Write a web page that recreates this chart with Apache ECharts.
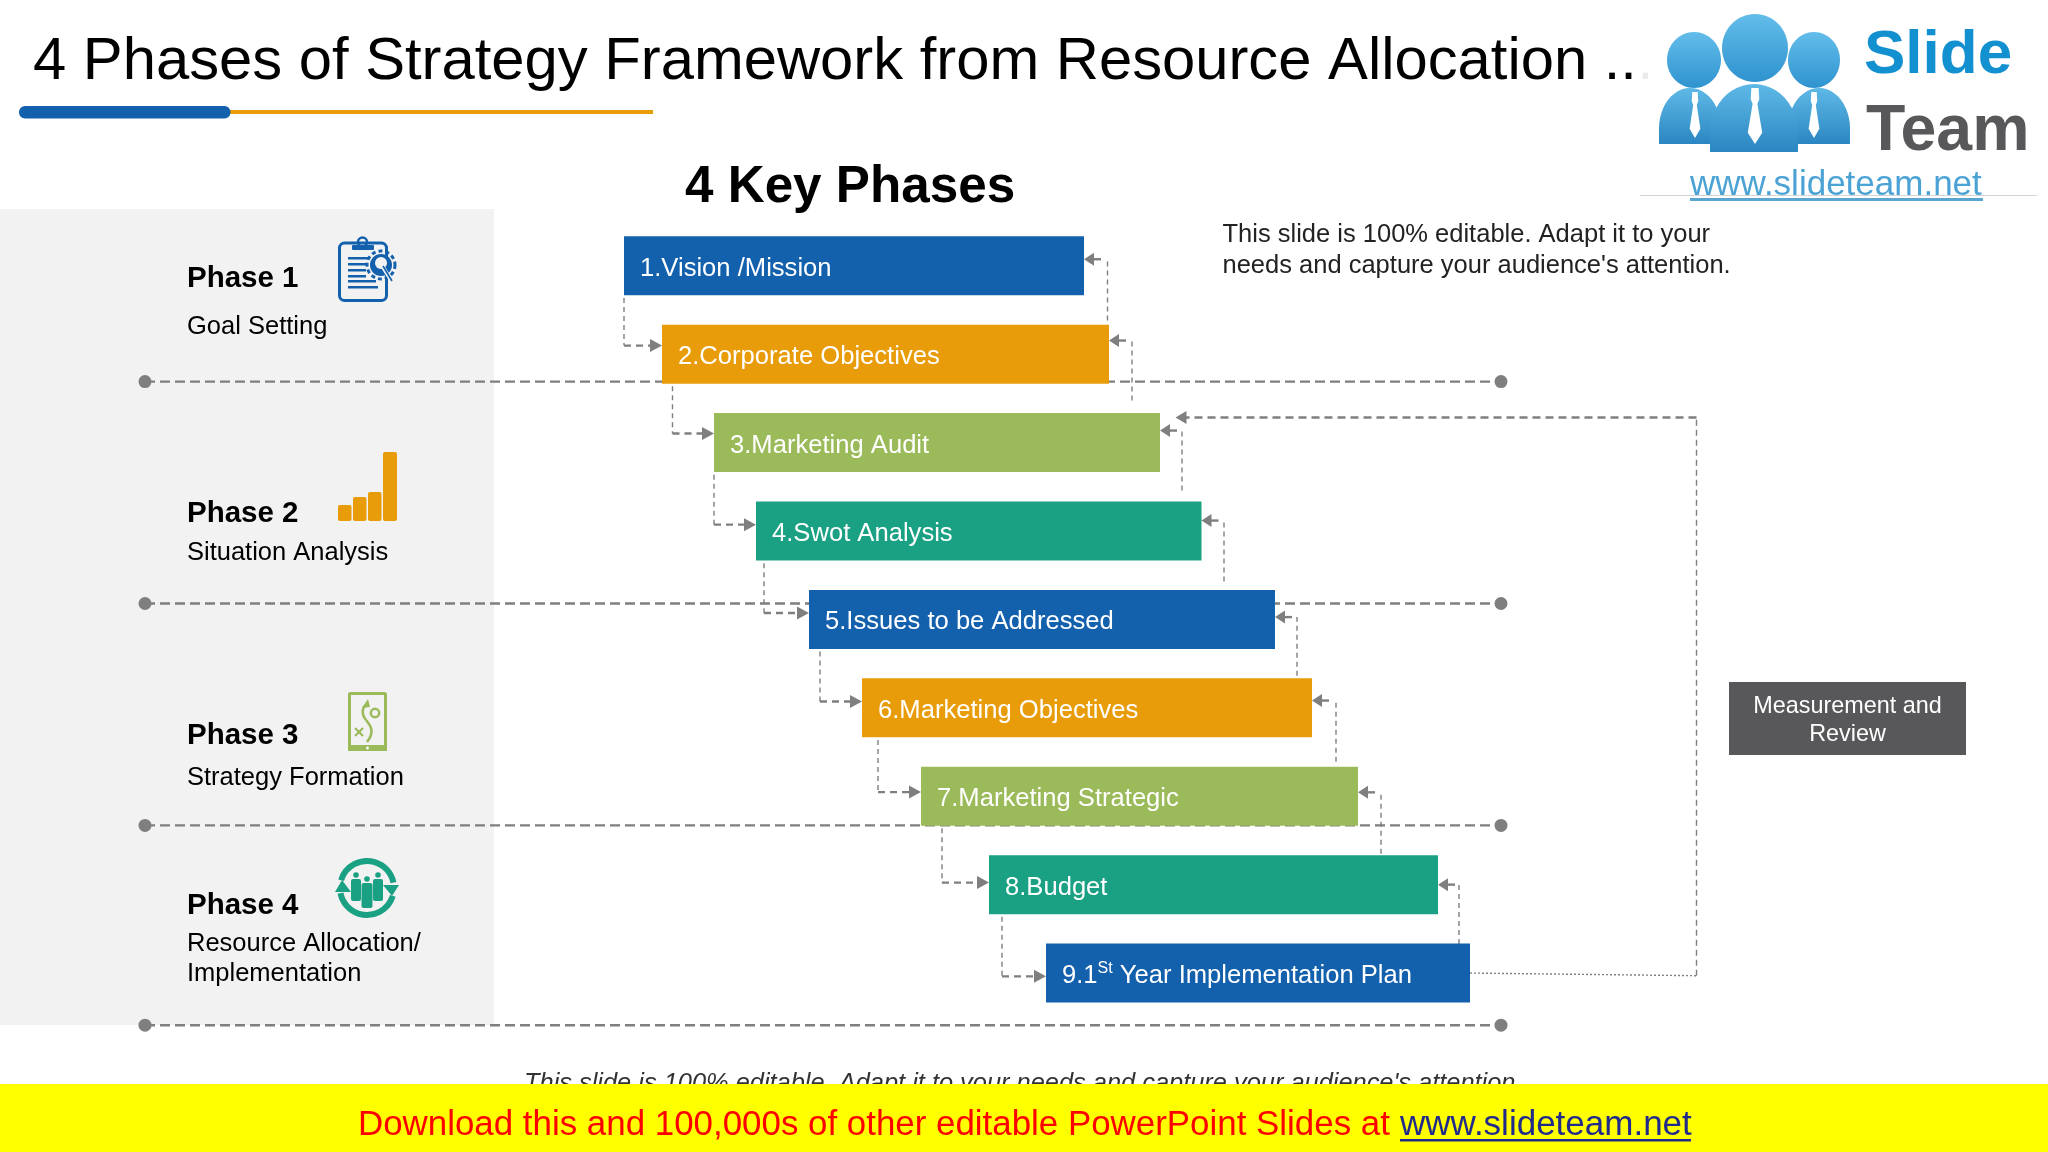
<![CDATA[<!DOCTYPE html>
<html><head><meta charset="utf-8">
<style>html,body{margin:0;padding:0;background:#fff}#c{width:2048px;height:1152px}</style>
<script src="https://cdn.jsdelivr.net/npm/echarts@6/dist/echarts.min.js"></script>
</head><body><div id="c"></div>
<script>
// ---- data read from the picture ----
const taskLabels = ['1.Vision /Mission','2.Corporate Objectives','3.Marketing Audit','4.Swot Analysis','5.Issues to be Addressed','6.Marketing Objectives','7.Marketing Strategic','8.Budget','9.1{sup|St} Year Implementation Plan'];
const taskStart = [0,38,90,132,185,238,297,365,422];
const taskEnd   = [460,485,536,577.5,651,688,734,814,846];
const taskGroup = [0,1,2,3,0,1,2,3,0];
const separatorRows = [1.31,3.82,6.33,8.59];
const separatorFrom = -479, separatorTo = 877;
const fwdElbowX   = [0,48.5,90,140,196,254,318,378];
const fwdArrowRow = [0.903,1.898,2.928,3.928,4.928,5.953,6.977,8.037];
const backElbowX   = [483.5,508,558,600,673,712,757,835];
const backArrowRow = [-0.074,0.846,1.864,2.882,3.974,4.918,5.956,7.0];
const backEndRow   = [0.62,1.525,2.543,3.57,4.636,5.61,6.65,7.67];
const reviewLoopX = 1072.5, reviewLoopTopRow = 1.717, reviewLoopBottomRow = 8.03, reviewLoopTip = 551.5;
const phaseNames = ['Phase 1','Phase 2','Phase 3','Phase 4'];
const phaseDescs = [['Goal Setting'],['Situation Analysis'],['Strategy Formation'],['Resource Allocation/','Implementation']];
const titleText = '4 Phases of Strategy Framework from Resource Allocation ...';
const subTitle = '4 Key Phases';
const noteLines = ['This slide is 100% editable. Adapt it to your',"needs and capture your audience's attention."];
const footNote = "This slide is 100% editable. Adapt it to your needs and capture your audience's attention.";
const reviewLines = ['Measurement and','Review'];
const bannerText = 'Download this and 100,000s of other editable PowerPoint Slides at ';
const siteText = 'www.slideteam.net';

// ---- styles ----
const BLUE='#1360ad',GOLD='#e99c09',GREEN='#9bba5a',TEAL='#1aa083',GRAY='#7f7f7f',PANEL='#f2f2f3';
const groupColors=[BLUE,GOLD,GREEN,TEAL];
const FONT='"Liberation Sans",Arial,sans-serif';
const barThickness=0.667;

function T(text,x,y,size,o){o=o||{};return {type:'text',z:o.z||20,style:{text,x,y,fill:o.fill||'#000',fontSize:size,fontFamily:FONT,fontWeight:o.weight||'normal',fontStyle:o.style||'normal',textAlign:o.align||'left',textVerticalAlign:'middle'}};}
function R(x,y,w,h,fill,z,r){return {type:'rect',z:z||20,shape:{x,y,width:w,height:h,r:r||0},style:{fill}};}
function grad(c1,c2){return {type:'linear',x:0,y:0,x2:0,y2:1,colorStops:[{offset:0,color:c1},{offset:1,color:c2}]};}
function dome(x,y,w,h){const pts=[[x,y+h]];for(let k=0;k<=24;k++){const t=Math.PI*(1-k/24);pts.push([x+w/2+w/2*Math.cos(t),y+h*0.72-h*0.72*Math.sin(t)]);}pts.push([x+w,y+h]);return pts;}
function tie(cx,y,w,h){const P=(a,b)=>[cx+(a-50)/100*w,y+b/100*h];return [P(35,0),P(65,0),P(68,20),P(60,28),P(80,80),P(50,100),P(20,80),P(40,28),P(32,20)];}

const g=[];
// left panel
g.push(R(0,209,494,816,PANEL,-1));
// title rule
g.push(R(225,110,428,4,GOLD,20));
g.push(R(19,106,211.5,12.5,BLUE,21,6));
// phase text
const phaseY=[279,514,736,906], descY=[[327],[553],[778],[944,974]];
phaseNames.forEach((n,i)=>{
  g.push(T(n,187,phaseY[i],29.5,{weight:'bold'}));
  phaseDescs[i].forEach((d,j)=>g.push(T(d,187,descY[i][j],25.5)));
});
// clipboard icon
g.push({type:'rect',z:20,shape:{x:339.5,y:243,width:47,height:57.5,r:5},style:{fill:'none',stroke:BLUE,lineWidth:3}});
g.push(R(352,245,22,5,BLUE,20,1));
g.push({type:'circle',z:20,shape:{cx:362.5,cy:242,r:4.5},style:{fill:'none',stroke:BLUE,lineWidth:2.5}});
[[257,20],[263,20],[269,18],[275,18],[280,28],[286,30]].forEach(a=>g.push(R(348,a[0],a[1],2.5,BLUE,20)));
g.push({type:'circle',z:21,shape:{cx:381,cy:265,r:14},style:{fill:'none',stroke:BLUE,lineWidth:3,lineDash:[4,3]}});
g.push({type:'circle',z:21,shape:{cx:381,cy:265,r:11},style:{fill:BLUE}});
g.push({type:'circle',z:21,shape:{cx:381,cy:263,r:6},style:{fill:PANEL}});
g.push({type:'line',z:21,shape:{x1:381,y1:264,x2:391,y2:280},style:{stroke:PANEL,lineWidth:4}});
g.push({type:'line',z:22,shape:{x1:383,y1:266,x2:392,y2:281},style:{stroke:BLUE,lineWidth:1.6}});
// growth icon
[[338,505],[353,497],[368,492],[383,452]].forEach((a,i)=>g.push(R(a[0],a[1],i==3?14:13.5,521-a[1],GOLD,20,2)));
// tablet icon
g.push({type:'rect',z:20,shape:{x:349.5,y:693.5,width:36,height:56,r:1},style:{fill:'none',stroke:GREEN,lineWidth:3}});
g.push(R(348,745,39,6,GREEN,20));
g.push({type:'circle',z:21,shape:{cx:367.5,cy:748,r:1.4},style:{fill:'#fff'}});
g.push({type:'circle',z:20,shape:{cx:375,cy:713,r:4.2},style:{fill:'none',stroke:GREEN,lineWidth:2.4}});
g.push({type:'bezierCurve',z:20,shape:{x1:367,y1:742,cpx1:375,cpy1:732,cpx2:371,cpy2:726,x2:366,y2:720},style:{fill:'none',stroke:GREEN,lineWidth:2.6}});
g.push({type:'bezierCurve',z:20,shape:{x1:366,y1:720,cpx1:361,cpy1:714,cpx2:362,cpy2:707,x2:367,y2:704},style:{fill:'none',stroke:GREEN,lineWidth:2.6}});
g.push({type:'polygon',z:20,shape:{points:[[368,699],[362,708],[370,707]]},style:{fill:GREEN}});
g.push({type:'line',z:20,shape:{x1:355,y1:728,x2:363,y2:736},style:{stroke:GREEN,lineWidth:2.2}});
g.push({type:'line',z:20,shape:{x1:363,y1:728,x2:355,y2:736},style:{stroke:GREEN,lineWidth:2.2}});
// people-cycle icon
const cx=367,cy=888;
g.push({type:'arc',z:20,shape:{cx,cy,r:27,startAngle:-2.85,endAngle:-0.2,clockwise:true},style:{fill:'none',stroke:TEAL,lineWidth:6}});
g.push({type:'arc',z:20,shape:{cx,cy,r:27,startAngle:0.3,endAngle:2.95,clockwise:true},style:{fill:'none',stroke:TEAL,lineWidth:6}});
g.push({type:'polygon',z:20,shape:{points:[[399,885],[383,885],[392,896]]},style:{fill:TEAL}});
g.push({type:'polygon',z:20,shape:{points:[[335,892],[351,892],[342,880]]},style:{fill:TEAL}});
[[356,877,6],[367,881,6.5],[378,877,6]].forEach(a=>{
  g.push({type:'circle',z:20,shape:{cx:a[0],cy:a[1]-2,r:2.8},style:{fill:TEAL}});
  g.push(R(a[0]-a[2]+1,a[1]+2,2*a[2]-2,a[0]==367?25:22,TEAL,20,2));
});
// subtitle & note
g.push(T(subTitle,685,188,51.2,{weight:'bold'}));
noteLines.forEach((l,i)=>g.push(T(l,1222.5,234.5+31*i,25.5,{fill:'#222'})));
// review box
g.push(R(1729,682,237,73,'#58585a',20));
reviewLines.forEach((l,i)=>g.push(T(l,1847.5,707+27.5*i,23.4,{fill:'#fff',align:'center'})));
// foot note + banner (banner covers the lower half of the note)
g.push(T(footNote,524,1083.5,25.4,{style:'italic',fill:'#333'}));
g.push(R(0,1084,2048,68,'#ffff00',30));
g.push(T(bannerText,358,1125.5,34.9,{fill:'#ff0000',z:31}));
g.push(T(siteText,1400,1125.5,35,{fill:'#1f2a8c',z:31}));
g.push(R(1400,1139,291,2.5,'#1f2a8c',31));
// logo
g.push({type:'rect',z:25,shape:{x:1640,y:0,width:400,height:195},style:{fill:'rgba(255,255,255,0.92)'}});
g.push({type:'line',z:26,shape:{x1:1640,y1:195.5,x2:2037,y2:195.5},style:{stroke:'#d4d4d4',lineWidth:1.2}});
const heads=[[1694,60,27,28],[1755,48,33,34],[1814,60,26,28]];
const bodies=[[1659,88,62,56],[1710,84,88,68],[1788,88,62,56]];
const ties=[[1695,92,18,46],[1755,88,24,56],[1814,92,18,46]];
heads.forEach(h=>g.push({type:'ellipse',z:27,shape:{cx:h[0],cy:h[1],rx:h[2],ry:h[3]},style:{fill:grad('#63bdea','#2f93cf')}}));
bodies.forEach((b,i)=>g.push({type:'polygon',z:i==1?29:28,shape:{points:dome(b[0],b[1],b[2],b[3])},style:{fill:grad('#5fb9e6','#2b86c2')}}));
ties.forEach(t=>g.push({type:'polygon',z:30,shape:{points:tie(t[0],t[1],t[2],t[3])},style:{fill:'#fff'}}));
g.push(T('Slide',1864,56,62,{weight:'bold',fill:'#1390cf',z:27}));
g.push(T('Team',1866,132,64.4,{weight:'bold',fill:'#58585b',z:27}));
g.push(T(siteText,1690,185,35,{fill:'#4aa3d4',z:27}));
g.push(R(1690,198,293,3,'#5aa5d2',27));

// ---- connector data for custom series ----
const fwdData=fwdElbowX.map((x,i)=>[x,i+barThickness/2+0.03,fwdArrowRow[i],taskStart[i+1]]);
const backData=backElbowX.map((x,i)=>[x,backEndRow[i],backArrowRow[i],taskEnd[i]]);

function dashedLine(a,b,w,dash){return {type:'line',shape:{x1:a[0],y1:a[1],x2:b[0],y2:b[1]},style:{stroke:GRAY,lineWidth:w,lineDash:dash,fill:null}};}
function arrow(tip,dir,len,half){return {type:'polygon',shape:{points:[tip,[tip[0]-dir*len,tip[1]-half],[tip[0]-dir*len,tip[1]+half]]},style:{fill:GRAY}};}

const option={
  animation:false,
  backgroundColor:'#fff',
  title:{text:titleText,left:28,top:28,z:5,textStyle:{fontFamily:FONT,fontSize:59.75,fontWeight:'normal',color:'#000'}},
  grid:{left:0,right:0,top:0,bottom:0},
  xAxis:{type:'value',min:-624,max:1424,show:false},
  yAxis:{type:'value',min:-3.006,max:10.024,inverse:true,show:false},
  graphic:{elements:g},
  series:[
    ...separatorRows.map(r=>({type:'line',z:2,silent:true,symbol:'circle',symbolSize:13,
      lineStyle:{color:GRAY,width:2.4,type:[10,5]},itemStyle:{color:GRAY},
      data:[[separatorFrom,r],[separatorTo,r]]})),
    {type:'custom',z:3,silent:true,data:fwdData,encode:{x:0,y:1},renderItem(p,api){
      const top=api.coord([api.value(0),api.value(1)]),el=api.coord([api.value(0),api.value(2)]),tip=api.coord([api.value(3),api.value(2)]);
      return {type:'group',children:[dashedLine(top,el,1.4,[5,4]),dashedLine(el,[tip[0]-6,tip[1]],2.4,[7,5]),arrow(tip,1,12,6.5)]};
    }},
    {type:'custom',z:3,silent:true,data:backData,encode:{x:0,y:1},renderItem(p,api){
      const end=api.coord([api.value(0),api.value(1)]),el=api.coord([api.value(0),api.value(2)]),tip=api.coord([api.value(3),api.value(2)]);
      return {type:'group',children:[dashedLine(end,el,1.4,[5,4]),dashedLine([tip[0]+6,tip[1]],[Math.min(tip[0]+17,el[0]),tip[1]],2.4),arrow(tip,-1,10,6.5)]};
    }},
    {type:'custom',z:3,silent:true,data:[[taskEnd[8],reviewLoopX,reviewLoopTip,reviewLoopTopRow,reviewLoopBottomRow]],encode:{x:1,y:3},renderItem(p,api){
      const a=api.coord([api.value(0),reviewLoopBottomRow-0.03]),b=api.coord([api.value(1),api.value(4)]),c=api.coord([api.value(1),api.value(3)]),d=api.coord([api.value(2),api.value(3)]);
      return {type:'group',children:[dashedLine(a,b,1.4,[2,2]),dashedLine(b,c,1.4,[6,4]),dashedLine(c,[d[0]+6,d[1]],2.4,[8,5]),arrow(d,-1,11,6.5)]};
    }},
    {type:'custom',z:4,silent:true,data:taskStart.map((s,i)=>[s,i,taskEnd[i],taskGroup[i]]),encode:{x:[0,2],y:1},renderItem(p,api){
      const i=p.dataIndex,a=api.coord([api.value(0),api.value(1)]),b=api.coord([api.value(2),api.value(1)]),h=api.size([0,barThickness])[1];
      return {type:'group',children:[
        {type:'rect',shape:{x:a[0],y:a[1]-h/2,width:b[0]-a[0],height:h},style:{fill:groupColors[api.value(3)]}},
        {type:'text',z2:5,style:{x:a[0]+16,y:a[1]+3,text:taskLabels[i],fill:'#fff',fontSize:25.6,fontFamily:FONT,textAlign:'left',textVerticalAlign:'middle',
          rich:{sup:{fontSize:16,fill:'#fff',fontFamily:FONT,verticalAlign:'top',lineHeight:30}}}}
      ]};
    }}
  ]
};
const chart=echarts.init(document.getElementById('c'),null,{renderer:'canvas'});
chart.setOption(option);
</script></body></html>]]>
